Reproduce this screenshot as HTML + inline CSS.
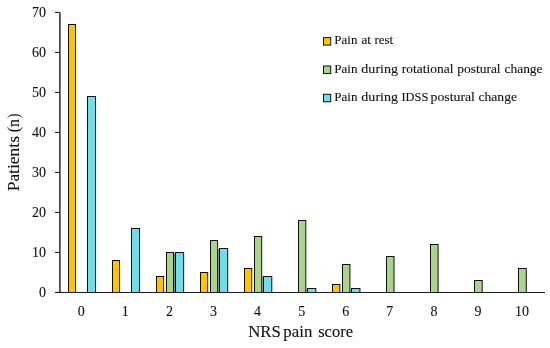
<!DOCTYPE html>
<html><head><meta charset="utf-8"><style>
html,body{margin:0;padding:0;background:#fff;}
svg{display:block;}
text{font-family:"Liberation Serif",serif;fill:#111;stroke:#111;stroke-width:0.1px;}
.t{font-size:14px;}
.ttl{font-size:16px;}
.ttl2{font-size:16px;}
.par{font-size:16.3px;}
.lg{font-size:12.7px;}
</style></head><body>
<svg width="550" height="348" viewBox="0 0 550 348">
<rect width="550" height="348" fill="#fff"/>
<rect x="68.50" y="24.50" width="7.00" height="268.00" fill="#FFC300" stroke="#111" stroke-width="1"/>
<rect x="87.50" y="96.50" width="8.00" height="196.00" fill="#74DBE9" stroke="#111" stroke-width="1"/>
<rect x="112.50" y="260.50" width="7.06" height="32.00" fill="#FFC300" stroke="#111" stroke-width="1"/>
<rect x="131.50" y="228.50" width="8.07" height="64.00" fill="#74DBE9" stroke="#111" stroke-width="1"/>
<rect x="156.50" y="276.50" width="7.12" height="16.00" fill="#FFC300" stroke="#111" stroke-width="1"/>
<rect x="166.50" y="252.50" width="7.00" height="40.00" fill="#AAD38C" stroke="#111" stroke-width="1"/>
<rect x="175.50" y="252.50" width="8.14" height="40.00" fill="#74DBE9" stroke="#111" stroke-width="1"/>
<rect x="200.50" y="272.50" width="7.18" height="20.00" fill="#FFC300" stroke="#111" stroke-width="1"/>
<rect x="210.50" y="240.50" width="7.10" height="52.00" fill="#AAD38C" stroke="#111" stroke-width="1"/>
<rect x="219.50" y="248.50" width="8.21" height="44.00" fill="#74DBE9" stroke="#111" stroke-width="1"/>
<rect x="244.50" y="268.50" width="7.24" height="24.00" fill="#FFC300" stroke="#111" stroke-width="1"/>
<rect x="254.50" y="236.50" width="7.20" height="56.00" fill="#AAD38C" stroke="#111" stroke-width="1"/>
<rect x="263.50" y="276.50" width="8.28" height="16.00" fill="#74DBE9" stroke="#111" stroke-width="1"/>
<rect x="298.50" y="220.50" width="7.30" height="72.00" fill="#AAD38C" stroke="#111" stroke-width="1"/>
<rect x="307.50" y="288.50" width="8.35" height="4.00" fill="#74DBE9" stroke="#111" stroke-width="1"/>
<rect x="332.50" y="284.50" width="7.36" height="8.00" fill="#FFC300" stroke="#111" stroke-width="1"/>
<rect x="342.50" y="264.50" width="7.40" height="28.00" fill="#AAD38C" stroke="#111" stroke-width="1"/>
<rect x="351.50" y="288.50" width="8.42" height="4.00" fill="#74DBE9" stroke="#111" stroke-width="1"/>
<rect x="386.50" y="256.50" width="7.50" height="36.00" fill="#AAD38C" stroke="#111" stroke-width="1"/>
<rect x="430.50" y="244.50" width="7.60" height="48.00" fill="#AAD38C" stroke="#111" stroke-width="1"/>
<rect x="474.50" y="280.50" width="7.70" height="12.00" fill="#AAD38C" stroke="#111" stroke-width="1"/>
<rect x="518.50" y="268.50" width="7.80" height="24.00" fill="#AAD38C" stroke="#111" stroke-width="1"/>
<rect x="174" y="253" width="1" height="39" fill="#8c8a90"/>
<rect x="218" y="249" width="1" height="43" fill="#8c8a90"/>
<rect x="262" y="277" width="1" height="15" fill="#8c8a90"/>
<rect x="306" y="289" width="1" height="3" fill="#8c8a90"/>
<rect x="350" y="289" width="1" height="3" fill="#8c8a90"/>
<path d="M59.9 12.4V292.4" stroke="#2a2a2a" stroke-width="1.5" fill="none"/>
<path d="M55 292.40H59.9" stroke="#1a1a1a" stroke-width="1.1" fill="none"/>
<text x="46" y="297.10" text-anchor="end" class="t">0</text>
<path d="M55 252.40H59.9" stroke="#1a1a1a" stroke-width="1.1" fill="none"/>
<text x="46" y="257.10" text-anchor="end" class="t">10</text>
<path d="M55 212.40H59.9" stroke="#1a1a1a" stroke-width="1.1" fill="none"/>
<text x="46" y="217.10" text-anchor="end" class="t">20</text>
<path d="M55 172.40H59.9" stroke="#1a1a1a" stroke-width="1.1" fill="none"/>
<text x="46" y="177.10" text-anchor="end" class="t">30</text>
<path d="M55 132.40H59.9" stroke="#1a1a1a" stroke-width="1.1" fill="none"/>
<text x="46" y="137.10" text-anchor="end" class="t">40</text>
<path d="M55 92.40H59.9" stroke="#1a1a1a" stroke-width="1.1" fill="none"/>
<text x="46" y="97.10" text-anchor="end" class="t">50</text>
<path d="M55 52.40H59.9" stroke="#1a1a1a" stroke-width="1.1" fill="none"/>
<text x="46" y="57.10" text-anchor="end" class="t">60</text>
<path d="M55 12.40H59.9" stroke="#1a1a1a" stroke-width="1.1" fill="none"/>
<text x="46" y="17.10" text-anchor="end" class="t">70</text>
<path d="M55 292.45H545" stroke="#1a1a1a" stroke-width="1.1" fill="none"/>
<text x="81.20" y="316.3" text-anchor="middle" class="t">0</text>
<text x="125.29" y="316.3" text-anchor="middle" class="t">1</text>
<text x="169.38" y="316.3" text-anchor="middle" class="t">2</text>
<text x="213.47" y="316.3" text-anchor="middle" class="t">3</text>
<text x="257.56" y="316.3" text-anchor="middle" class="t">4</text>
<text x="301.65" y="316.3" text-anchor="middle" class="t">5</text>
<text x="345.74" y="316.3" text-anchor="middle" class="t">6</text>
<text x="389.83" y="316.3" text-anchor="middle" class="t">7</text>
<text x="433.92" y="316.3" text-anchor="middle" class="t">8</text>
<text x="478.01" y="316.3" text-anchor="middle" class="t">9</text>
<text x="522.10" y="316.3" text-anchor="middle" class="t">10</text>
<text x="248.28" y="336.8" class="ttl" textLength="32.59" lengthAdjust="spacingAndGlyphs">NRS</text>
<text x="283.39" y="336.8" class="ttl" textLength="28.96" lengthAdjust="spacingAndGlyphs">pain</text>
<text x="318.18" y="336.8" class="ttl" textLength="34.79" lengthAdjust="spacingAndGlyphs">score</text>
<text transform="translate(18.5,0) rotate(-90)" x="-191.34" y="0" class="ttl2" textLength="55.25" lengthAdjust="spacingAndGlyphs">Patients</text>
<text transform="translate(19.0,0) rotate(-90)" x="-132.37" y="0" class="par" textLength="5.18" lengthAdjust="spacingAndGlyphs">(</text>
<text transform="translate(18.5,0) rotate(-90)" x="-127.10" y="0" class="ttl2" textLength="8.00" lengthAdjust="spacingAndGlyphs">n</text>
<text transform="translate(19.0,0) rotate(-90)" x="-118.23" y="0" class="par" textLength="4.67" lengthAdjust="spacingAndGlyphs">)</text>
<rect x="323.5" y="37.60" width="7.2" height="7.5" fill="#FFC300" stroke="#111" stroke-width="1"/>
<text x="334.39" y="44.20" class="lg" textLength="22.99" lengthAdjust="spacingAndGlyphs">Pain</text>
<text x="361.49" y="44.20" class="lg" textLength="9.48" lengthAdjust="spacingAndGlyphs">at</text>
<text x="374.50" y="44.20" class="lg" textLength="18.64" lengthAdjust="spacingAndGlyphs">rest</text>
<rect x="323.5" y="66.00" width="7.2" height="7.5" fill="#AAD38C" stroke="#111" stroke-width="1"/>
<text x="334.29" y="72.60" class="lg" textLength="23.19" lengthAdjust="spacingAndGlyphs">Pain</text>
<text x="361.36" y="72.60" class="lg" textLength="36.62" lengthAdjust="spacingAndGlyphs">during</text>
<text x="401.79" y="72.60" class="lg" textLength="51.69" lengthAdjust="spacingAndGlyphs">rotational</text>
<text x="457.19" y="72.60" class="lg" textLength="43.44" lengthAdjust="spacingAndGlyphs">postural</text>
<text x="504.48" y="72.60" class="lg" textLength="38.11" lengthAdjust="spacingAndGlyphs">change</text>
<rect x="323.5" y="94.30" width="7.2" height="7.5" fill="#74DBE9" stroke="#111" stroke-width="1"/>
<text x="334.29" y="100.60" class="lg" textLength="23.19" lengthAdjust="spacingAndGlyphs">Pain</text>
<text x="361.36" y="100.60" class="lg" textLength="36.62" lengthAdjust="spacingAndGlyphs">during</text>
<text x="401.51" y="100.60" class="lg" textLength="26.80" lengthAdjust="spacingAndGlyphs">IDSS</text>
<text x="430.58" y="100.60" class="lg" textLength="44.35" lengthAdjust="spacingAndGlyphs">postural</text>
<text x="478.47" y="100.60" class="lg" textLength="38.51" lengthAdjust="spacingAndGlyphs">change</text>
</svg>
</body></html>
